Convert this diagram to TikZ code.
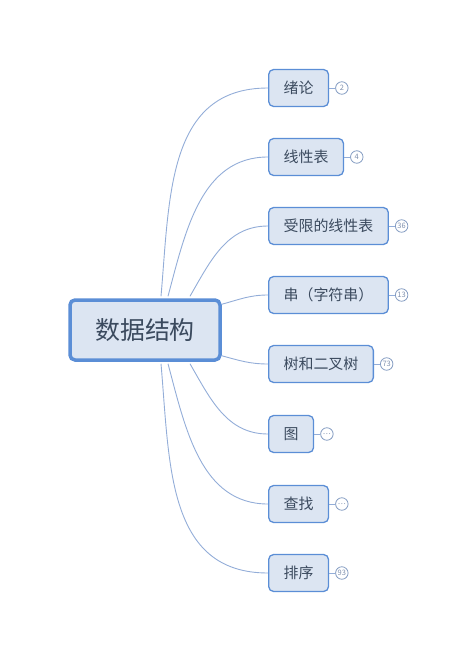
\documentclass[tikz,border=0pt]{standalone}
\usepackage{fontspec}
\setmainfont{Noto Sans CJK SC}
\usetikzlibrary{positioning}
\definecolor{topicfill}{HTML}{DCE5F2}
\definecolor{topicline}{HTML}{5B8ED6}
\definecolor{branchline}{HTML}{93ADD8}
\definecolor{topictext}{HTML}{3B4A5E}
\definecolor{badgetext}{HTML}{7F90AE}
\tikzset{
  rootbox/.style={draw=topicline, fill=topicfill, line width=3.5bp, rounded corners=5bp,
    minimum width=150bp, minimum height=60bp, text=topictext,
    font=\fontsize{25}{25}\selectfont},
  topicbox/.style={draw=topicline, fill=topicfill, line width=1.3bp, rounded corners=5bp,
    anchor=west, inner xsep=15bp, minimum height=37bp, text=topictext,
    font=\fontsize{15}{15}\selectfont},
  badge/.style={circle, draw=branchline!90!black, fill=white, line width=0.8bp, minimum size=12.5bp,
    inner sep=0pt, text=badgetext, font=\fontsize{7.5}{7.5}\selectfont},
  branch/.style={draw=branchline, line width=0.9bp}
}
\begin{document}
\begin{tikzpicture}[x=1bp, y=-1bp]
\useasboundingbox (0,0) rectangle (474,661);
\node[rootbox] (root) at (145,330) {数据结构};
\node[topicbox] (t1) at (268,88) {绪论};
\node[topicbox] (t2) at (268,157) {线性表};
\node[topicbox] (t3) at (268,226) {受限的线性表};
\node[topicbox] (t4) at (268,295) {串（字符串）};
\node[topicbox] (t5) at (268,364) {树和二叉树};
\node[topicbox] (t6) at (268,434) {图};
\node[topicbox] (t7) at (268,504) {查找};
\node[topicbox] (t8) at (268,573) {排序};
% counters on the right
\node[badge, right=6bp of t1] (b1) {2};
\node[badge, right=6bp of t2] (b2) {4};
\node[badge, right=6bp of t3] (b3) {36};
\node[badge, right=6bp of t4] (b4) {13};
\node[badge, right=6bp of t5] (b5) {73};
\node[badge, right=6bp of t6] (b6) {…};
\node[badge, right=6bp of t7] (b7) {…};
\node[badge, right=6bp of t8] (b8) {93};
\draw[branch] (t1) -- (b1);
\draw[branch] (t2) -- (b2);
\draw[branch] (t3) -- (b3);
\draw[branch] (t4) -- (b4);
\draw[branch] (t5) -- (b5);
\draw[branch] (t6) -- (b6);
\draw[branch] (t7) -- (b7);
\draw[branch] (t8) -- (b8);
% branches
\draw[branch] ([xshift=16bp,yshift=2bp]root.north) to[out=85, in=180, looseness=1.1] (t1.west);
\draw[branch] ([xshift=23bp,yshift=2bp]root.north) to[out=75, in=180] (t2.west);
\draw[branch] ([xshift=45bp,yshift=2bp]root.north) to[out=60, in=180] (t3.west);
\draw[branch] ([yshift=-6bp]root.north east) to[out=15, in=180] (t4.west);
\draw[branch] ([yshift=6bp]root.south east) to[out=-15, in=180] (t5.west);
\draw[branch] ([xshift=45bp,yshift=-2bp]root.south) to[out=-60, in=180] (t6.west);
\draw[branch] ([xshift=23bp,yshift=-2bp]root.south) to[out=-75, in=180] (t7.west);
\draw[branch] ([xshift=16bp,yshift=-2bp]root.south) to[out=-85, in=180, looseness=1.1] (t8.west);
\end{tikzpicture}
\end{document}
